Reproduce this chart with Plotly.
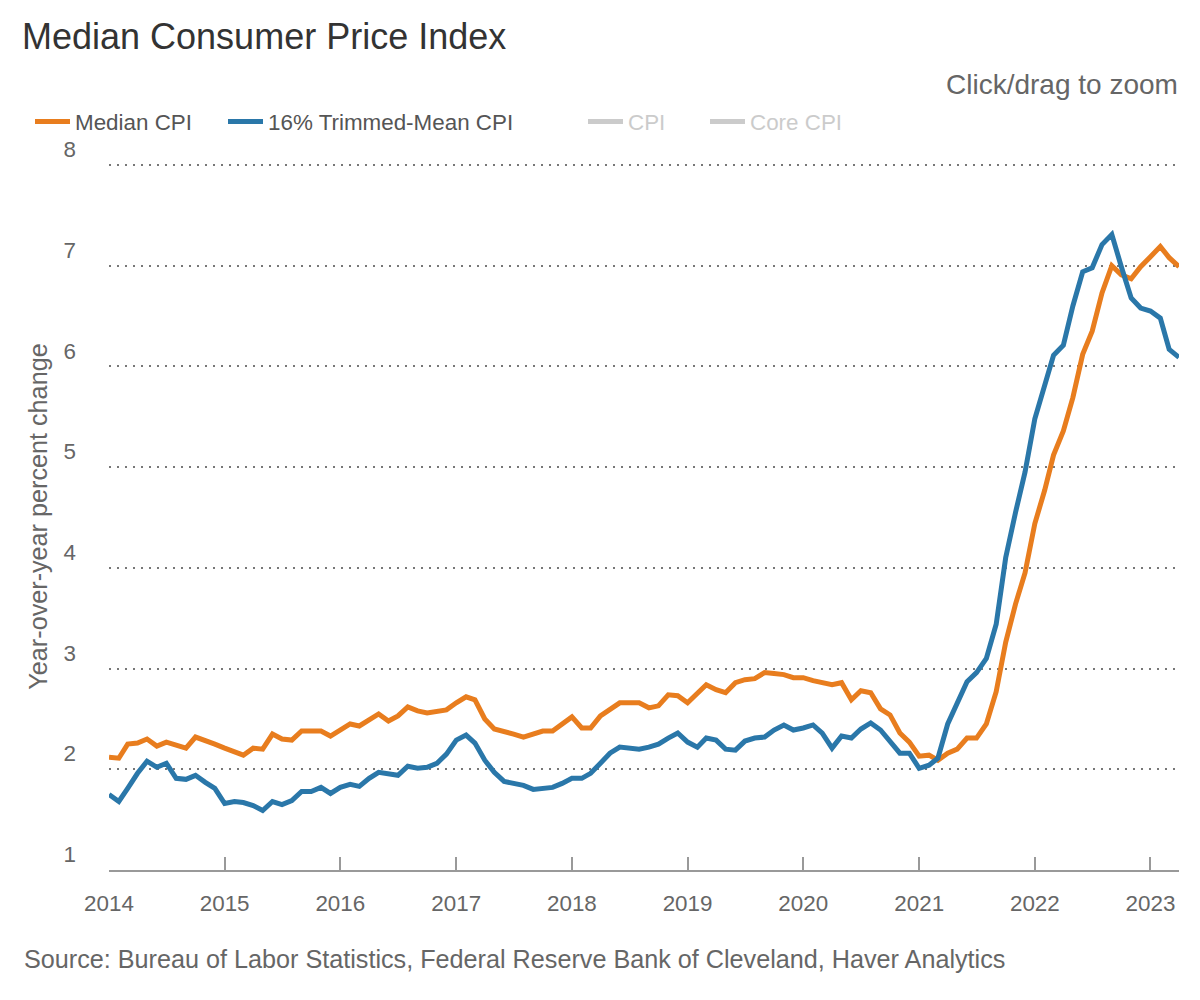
import pandas as pd
import plotly.graph_objects as go

# ---- data (monthly, year-over-year % change) ----
start_month = "2014-01-01"
n_months = 112  # Jan 2014 .. Apr 2023
dates = pd.date_range(start_month, periods=n_months, freq="MS")

median_cpi = [
    2.12, 2.11, 2.25, 2.26, 2.30, 2.23, 2.27, 2.24, 2.21, 2.32, 2.29, 2.25,   # 2014
    2.21, 2.17, 2.14, 2.21, 2.20, 2.35, 2.30, 2.29, 2.38, 2.38, 2.38, 2.33,   # 2015
    2.39, 2.45, 2.43, 2.49, 2.55, 2.48, 2.53, 2.62, 2.58, 2.56, 2.57, 2.59,   # 2016
    2.66, 2.72, 2.69, 2.50, 2.40, 2.38, 2.35, 2.32, 2.35, 2.38, 2.38, 2.45,   # 2017
    2.52, 2.41, 2.41, 2.53, 2.60, 2.66, 2.66, 2.66, 2.61, 2.63, 2.74, 2.73,   # 2018
    2.66, 2.75, 2.84, 2.79, 2.76, 2.86, 2.89, 2.90, 2.96, 2.95, 2.94, 2.91,   # 2019
    2.91, 2.88, 2.86, 2.84, 2.86, 2.69, 2.78, 2.76, 2.60, 2.54, 2.36, 2.27,   # 2020
    2.13, 2.14, 2.09, 2.16, 2.20, 2.31, 2.31, 2.45, 2.77, 3.26, 3.64, 3.95,   # 2021
    4.44, 4.77, 5.12, 5.36, 5.69, 6.12, 6.35, 6.73, 7.00, 6.91, 6.87, 6.99,   # 2022
    7.09, 7.19, 7.08, 6.99,                                                   # 2023
]

trimmed_mean_cpi = [
    1.75, 1.68, 1.81, 1.96, 2.08, 2.02, 2.06, 1.91, 1.90, 1.94, 1.87, 1.81,   # 2014
    1.66, 1.68, 1.67, 1.64, 1.59, 1.68, 1.65, 1.69, 1.78, 1.78, 1.82, 1.76,   # 2015
    1.82, 1.85, 1.83, 1.91, 1.97, 1.95, 1.94, 2.03, 2.01, 2.02, 2.06, 2.15,   # 2016
    2.29, 2.34, 2.26, 2.09, 1.97, 1.88, 1.86, 1.84, 1.80, 1.81, 1.82, 1.86,   # 2017
    1.91, 1.91, 1.96, 2.06, 2.16, 2.22, 2.21, 2.20, 2.22, 2.25, 2.31, 2.36,   # 2018
    2.27, 2.22, 2.31, 2.29, 2.20, 2.19, 2.28, 2.31, 2.32, 2.39, 2.44, 2.39,   # 2019
    2.41, 2.44, 2.36, 2.21, 2.33, 2.31, 2.40, 2.46, 2.39, 2.27, 2.16, 2.16,   # 2020
    2.01, 2.04, 2.11, 2.45, 2.65, 2.87, 2.96, 3.10, 3.44, 4.10, 4.55, 4.95,   # 2021
    5.48, 5.79, 6.11, 6.21, 6.60, 6.94, 6.98, 7.21, 7.31, 6.99, 6.68, 6.58,   # 2022
    6.55, 6.48, 6.17, 6.09,                                                   # 2023
]

# hidden (legend-only) series: their values are not shown in the picture
cpi = [None] * n_months
core_cpi = [None] * n_months

series_names = ["Median CPI", "16% Trimmed-Mean CPI", "CPI", "Core CPI"]
series_colors = ["#E87D1E", "#2A77A9", "#999999", "#999999"]
y_ticks = [1, 2, 3, 4, 5, 6, 7, 8]

FONT = "Arial, 'Liberation Sans', sans-serif"

# layout geometry (pixels)
W, H = 1200, 1000
Y_MIN, Y_MAX = 1, 8.02
ML, MR, MT, MB = 109, 21, 163, 130
PW, PH = W - ML - MR, H - MT - MB


def px_x(px):
    return (px - ML) / PW


def px_y(py):
    return (H - MB - py) / PH


# legend entry start positions (px from left)
legend_x = [30, 223, 583, 705]
legend_ids = ["legend", "legend2", "legend3", "legend4"]

fig = go.Figure()
fig.add_trace(go.Scatter(x=dates, y=median_cpi, mode="lines", name=series_names[0],
                         legend=legend_ids[0],
                         line=dict(color=series_colors[0], width=5)))
fig.add_trace(go.Scatter(x=dates, y=trimmed_mean_cpi, mode="lines", name=series_names[1],
                         legend=legend_ids[1],
                         line=dict(color=series_colors[1], width=5)))
fig.add_trace(go.Scatter(x=dates, y=cpi, mode="lines", visible="legendonly",
                         legend=legend_ids[2],
                         name='<span style="color:#999999">' + series_names[2] + '</span>',
                         line=dict(color=series_colors[2], width=5)))
fig.add_trace(go.Scatter(x=dates, y=core_cpi, mode="lines", visible="legendonly",
                         legend=legend_ids[3],
                         name='<span style="color:#999999">' + series_names[3] + '</span>',
                         line=dict(color=series_colors[3], width=5)))

legend_common = dict(orientation="h", xref="container", yref="container",
                     xanchor="left", y=1 - 122 / H, yanchor="middle",
                     font=dict(size=22.4, color="#555555"), bgcolor="rgba(0,0,0,0)",
                     itemwidth=35)

layout_legends = {lid: dict(legend_common, x=lx / W) for lid, lx in zip(legend_ids, legend_x)}

fig.update_layout(
    width=W, height=H,
    margin=dict(l=ML, r=MR, t=MT, b=MB, autoexpand=False),
    paper_bgcolor="white", plot_bgcolor="white",
    font=dict(family=FONT, color="#555555"),
    title=dict(text="Median Consumer Price Index", xref="container", yref="container",
               x=22 / W, xanchor="left", y=1 - 36 / H, yanchor="middle",
               font=dict(size=36, color="#333333", family=FONT)),
    showlegend=True,
    xaxis=dict(
        type="date", range=[dates[0], dates[-1]], automargin=False,
        tick0=start_month, dtick="M12", tickformat="%Y",
        showline=True, linecolor="#999999", linewidth=2,
        ticks="inside", ticklen=13, tickwidth=1.5, tickcolor="#999999",
        showgrid=False, zeroline=False,
        tickfont=dict(size=22.4, color="#666666"),
        ticklabelstandoff=12,
    ),
    yaxis=dict(
        range=[Y_MIN, Y_MAX], tickvals=y_ticks, ticktext=[str(v) for v in y_ticks],
        automargin=False,
        showgrid=True, gridcolor="#777777", gridwidth=2, griddash="2px,6px",
        zeroline=False, showline=False, ticks="",
        tickfont=dict(size=22.4, color="#666666"),
        ticklabelposition="outside top", ticklabelstandoff=32,
        title=dict(text="Year-over-year percent change", standoff=8,
                   font=dict(size=25.2, color="#666666")),
    ),
    annotations=[
        dict(text="Click/drag to zoom", xref="paper", yref="paper",
             x=px_x(1180), xanchor="right", y=px_y(85), yanchor="middle",
             showarrow=False, font=dict(size=28, color="#666666")),
        dict(text="Source: Bureau of Labor Statistics, Federal Reserve Bank of Cleveland, Haver Analytics",
             xref="paper", yref="paper",
             x=px_x(22), xanchor="left", y=px_y(959), yanchor="middle",
             showarrow=False, font=dict(size=25.2, color="#666666")),
    ],
    **layout_legends,
)

fig.write_html("out.html")
